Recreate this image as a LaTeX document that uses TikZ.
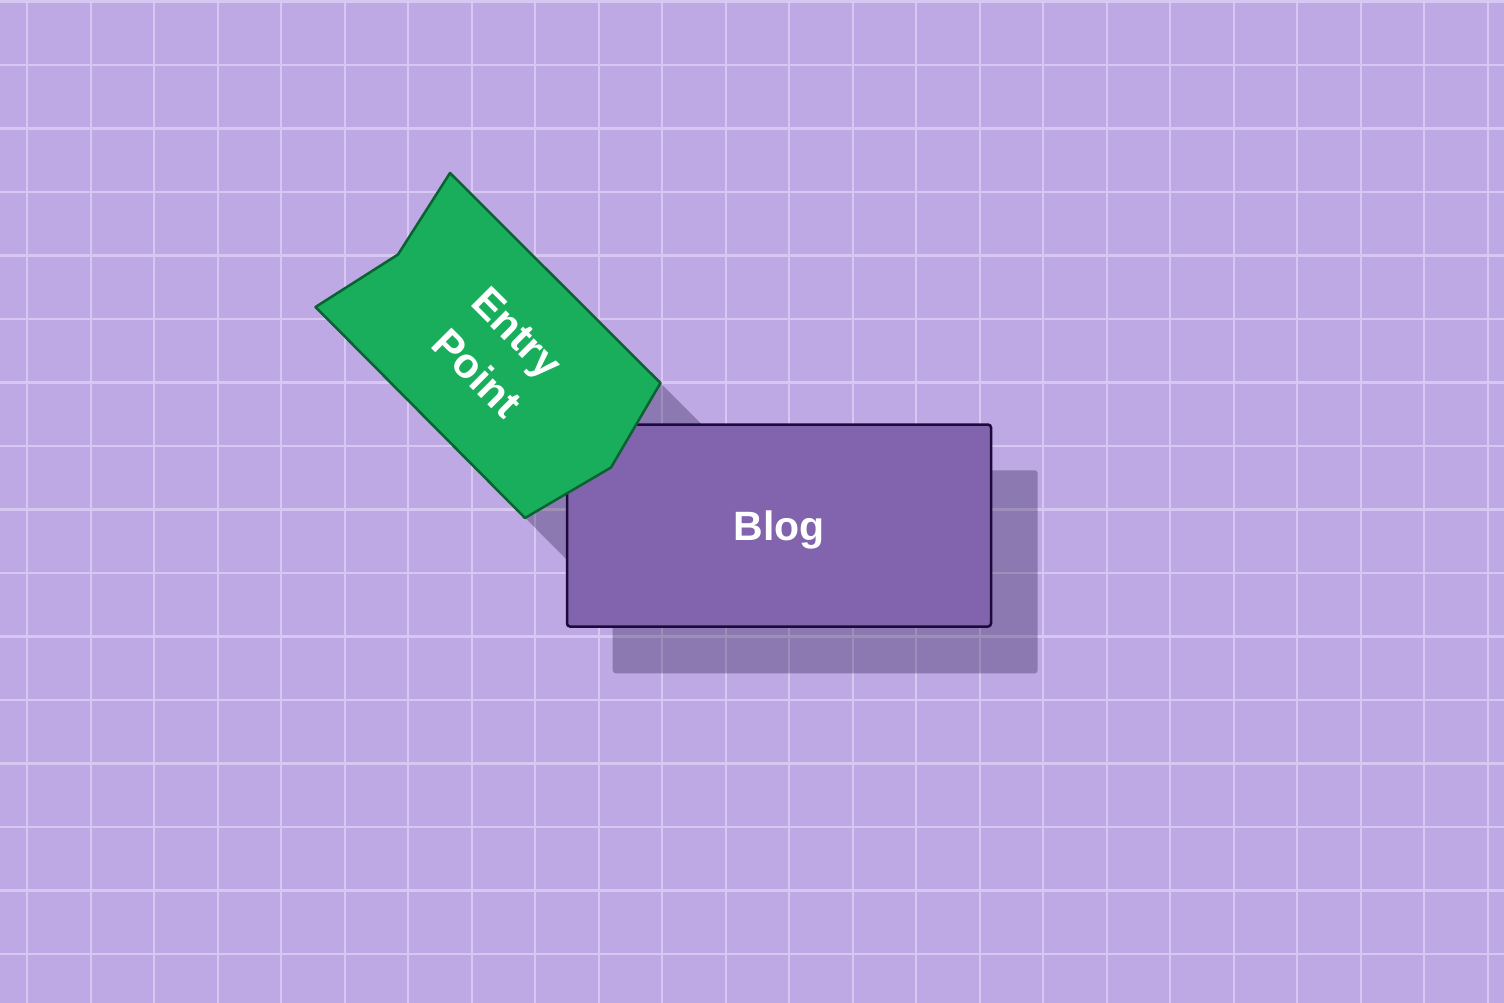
\documentclass[tikz,border=0pt]{standalone}
\usepackage{fontspec}
\setmainfont{Liberation Sans}
\definecolor{bgc}{RGB}{190,169,229}
\definecolor{gridc}{RGB}{214,200,240}
\definecolor{shadc}{RGB}{30,12,59}
\definecolor{greenf}{RGB}{24,174,92}
\definecolor{greens}{RGB}{10,98,50}
\definecolor{blogf}{RGB}{130,99,173}
\definecolor{blogs}{RGB}{28,10,58}
\tikzset{
  gridline/.style={draw=gridc, line width=2.2pt},
  shadowfill/.style={fill=shadc, fill opacity=0.3},
  blogbox/.style={rectangle, draw=blogs, fill=blogf, line width=2.5pt, rounded corners=3pt,
    minimum width=424pt, minimum height=202pt, text=white, text depth=0pt,
    font=\bfseries\fontsize{41}{48}\selectfont},
  tagshape/.style={draw=greens, fill=greenf, line width=2.5pt, line join=round},
  taglabel/.style={text=white, align=center, rotate=-45,
    font=\bfseries\fontsize{42}{57}\selectfont}
}
\begin{document}
\begin{tikzpicture}[x=1pt,y=-1pt]
\useasboundingbox (0,0) rectangle (1504,1003);
\fill[bgc] (0,0) rectangle (1504,1003);
\foreach \i in {0,...,23} \draw[gridline] ({27.3+63.5*\i},0) -- ({27.3+63.5*\i},1003);
\foreach \j in {0,...,15} \draw[gridline] (0,{1.5+63.5*\j}) -- (1504,{1.5+63.5*\j});
% tag corners
\coordinate (t1) at (450,173);
\coordinate (t2) at (660.5,383);
\coordinate (t3) at (611,467.5);
\coordinate (t4) at (525,518);
\coordinate (t5) at (315.5,307);
\coordinate (t6) at (398,254.5);
% shadows
\fill[shadowfill, rounded corners=3pt] (612.7,470.3) rectangle (1037.7,673.3);
\fill[shadowfill] ([shift={(46,46)}]t1) -- ([shift={(46,46)}]t2) -- ([shift={(46,46)}]t3)
  -- ([shift={(46,46)}]t4) -- ([shift={(46,46)}]t5) -- ([shift={(46,46)}]t6) -- cycle;
% blog
\node[blogbox] (blog) at (779,525.5) {Blog};
% tag
\draw[tagshape] (t1) -- (t2) -- (t3) -- (t4) -- (t5) -- (t6) -- cycle;
\node[taglabel] (entry) at (497,353) {Entry\\Point};
\end{tikzpicture}
\end{document}
